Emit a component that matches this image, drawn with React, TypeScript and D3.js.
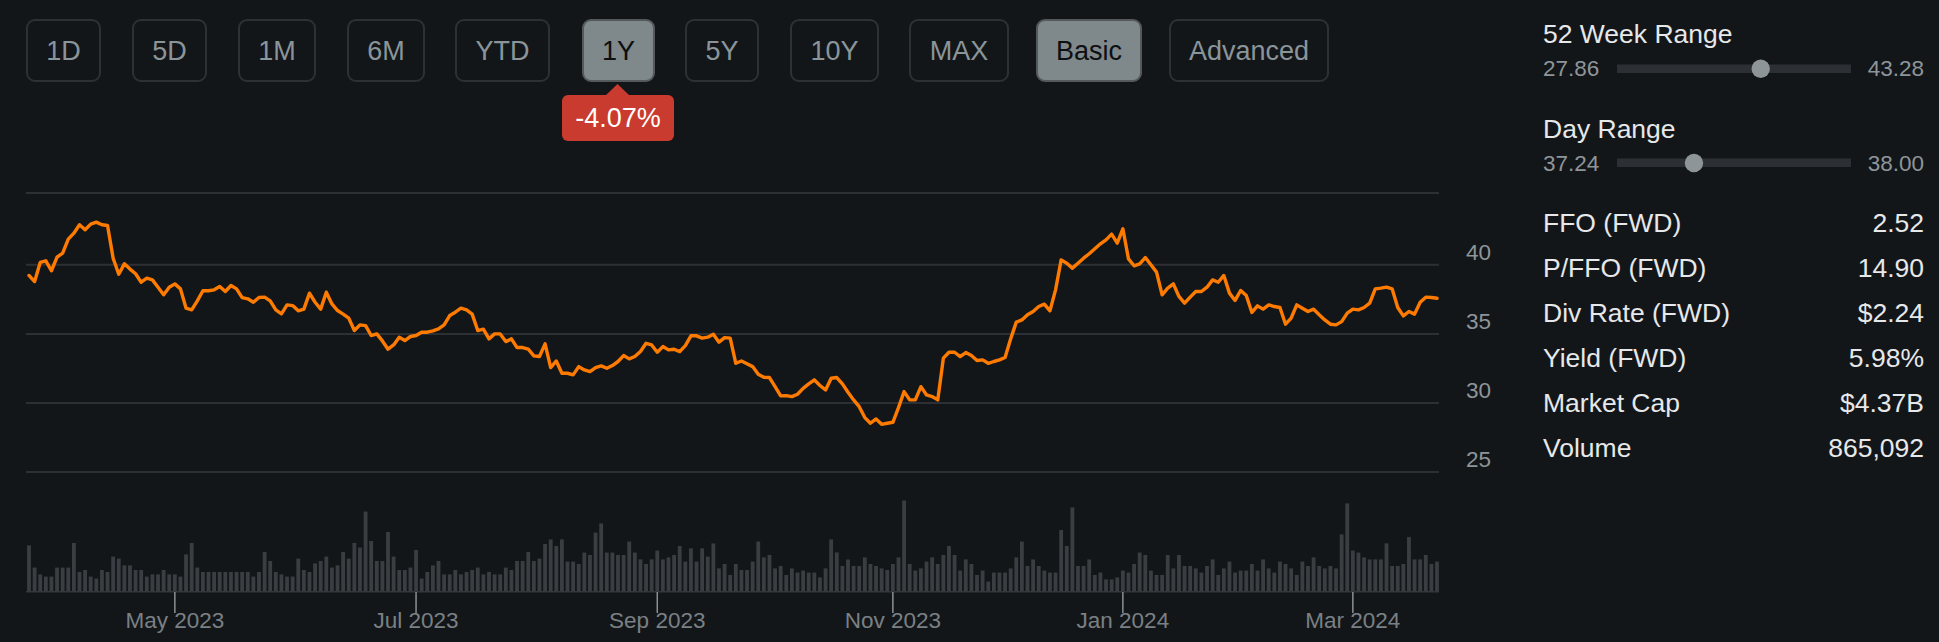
import React from "react";
import * as d3 from "d3";

const W = 1939;
const H = 642;

// ---- data ----
const startDate = "2023-03-23";
const holidays = [
  "2023-04-07", "2023-05-29", "2023-06-19", "2023-07-04", "2023-09-04",
  "2023-11-23", "2023-12-25", "2024-01-01", "2024-01-15", "2024-02-19",
];

const prices: number[] = [
  39.23, 38.79, 40.17, 40.29, 39.57, 40.56, 40.85, 41.86, 42.29, 42.90,
  42.54, 42.95, 43.09, 42.90, 42.85, 40.48, 39.32, 40.07, 39.69, 39.35,
  38.74, 39.03, 38.91, 38.38, 37.83, 38.38, 38.62, 38.26, 36.86, 36.74,
  37.39, 38.12, 38.12, 38.19, 38.43, 38.07, 38.50, 38.26, 37.63, 37.54,
  37.29, 37.63, 37.66, 37.39, 36.74, 36.45, 37.10, 37.05, 36.67, 36.79,
  37.95, 37.29, 36.79, 38.02, 37.17, 36.69, 36.43, 36.14, 35.24, 35.65,
  35.60, 34.88, 35.00, 34.49, 33.89, 34.20, 34.76, 34.52, 34.81, 34.88,
  35.12, 35.12, 35.22, 35.36, 35.65, 36.33, 36.57, 36.86, 36.74, 36.43,
  35.24, 35.34, 34.64, 35.00, 35.00,
  34.44, 34.64, 34.01, 34.01, 33.89, 33.41, 33.36, 34.28, 32.56, 33.04,
  32.15, 32.15, 32.03, 32.63, 32.39, 32.27, 32.56, 32.68, 32.51, 32.71,
  33.00, 33.43, 33.19, 33.36, 33.72, 34.32, 34.20, 33.67, 34.08, 33.84,
  33.89, 33.72, 34.15, 34.86, 34.86, 34.69, 34.76, 34.98, 34.40, 34.73,
  34.69, 32.87, 33.04, 32.83, 32.63, 32.08, 31.86, 31.84, 31.18, 30.51,
  30.53, 30.46, 30.63, 31.06, 31.38, 31.67, 31.26, 30.94, 31.79, 31.84,
  31.38, 30.77, 30.22, 29.73, 28.94, 28.53, 28.84, 28.45, 28.53, 28.60,
  29.66, 30.82, 30.22, 30.22, 31.18, 30.58, 30.46, 30.22, 33.24, 33.67,
  33.67, 33.36, 33.65, 33.43, 33.07,
  33.12, 32.87, 33.00, 33.12, 33.29, 34.64, 35.85, 36.01, 36.38, 36.62,
  36.98, 37.15, 36.67, 38.19, 40.36, 40.12, 39.76, 40.12, 40.48, 40.80,
  41.16, 41.52, 41.81, 42.22, 41.57, 42.61, 40.43, 39.93, 40.07, 40.53,
  40.00, 39.47, 37.83, 38.31, 38.62, 37.71, 37.22, 37.66, 38.07, 38.07,
  38.38, 38.91, 38.74, 39.23, 37.95, 37.42, 38.14, 37.78, 36.55, 37.03,
  36.79, 37.10, 36.98, 36.91, 35.70, 36.14, 37.10, 36.86, 36.62, 36.79,
  36.38, 36.01, 35.70, 35.65, 35.89, 36.50, 36.79, 36.74, 36.91,
  37.22, 38.26, 38.31, 38.38, 38.26, 36.91, 36.30, 36.62, 36.43, 37.29,
  37.66, 37.63, 37.58,
];

// volume, millions of shares
const volumes: number[] = [
  2.28, 1.17, 0.83, 0.72, 0.72, 1.17, 1.17, 1.17, 2.40, 0.95,
  1.05, 0.72, 0.62, 1.05, 0.95, 1.72, 1.62, 1.28, 1.28, 1.05,
  1.05, 0.72, 0.83, 0.83, 1.05, 0.83, 0.83, 0.72, 1.83, 2.40,
  1.17, 0.95, 0.95, 0.95, 0.95, 0.95, 0.95, 0.95, 0.95, 0.95,
  0.72, 0.95, 1.95, 1.50, 0.95, 0.83, 0.72, 0.72, 1.62, 1.05,
  0.95, 1.38, 1.50, 1.72, 1.17, 1.28, 1.95, 1.62, 2.40, 2.17,
  3.97, 2.50, 1.50, 1.50, 2.95, 1.72, 1.05, 1.05, 1.17, 2.05,
  0.62, 0.95, 1.28, 1.50, 0.83, 0.83, 1.05, 0.83, 0.95, 1.05,
  1.17, 0.83, 0.95, 0.83, 0.83, 1.17, 1.05, 1.50, 1.50, 1.95,
  1.50, 1.62,
  2.35, 2.58, 2.25, 2.58, 1.47, 1.47, 1.35, 1.92, 1.80, 2.92,
  3.38, 1.92, 1.92, 1.80, 1.80, 2.47, 1.92, 1.58, 1.35, 1.58,
  2.02, 1.58, 1.68, 1.80, 2.25, 1.47, 2.13, 1.47, 2.13,
  1.72, 2.38, 1.13, 1.35, 0.80, 1.35, 1.05, 1.05, 1.47, 2.47,
  1.68, 1.80, 1.13, 1.25, 0.80, 1.13, 0.92, 1.02, 0.92, 0.92,
  0.68, 1.13, 2.58, 1.93, 1.25, 1.58, 1.25, 1.25, 1.68, 1.35,
  1.25, 1.13, 1.05, 1.35, 1.68, 4.52, 1.35, 1.02, 1.13, 1.47,
  1.68, 1.35, 1.80, 2.25, 1.80, 1.02, 1.58, 1.35, 0.80, 1.02,
  0.47, 0.92, 0.92, 0.92, 1.13, 1.68, 2.47, 1.25, 1.58, 1.25,
  1.02, 0.92, 0.92, 3.05, 2.25, 4.18, 1.25, 1.25, 1.58, 0.80,
  0.92, 0.58, 0.58, 0.68, 1.02, 0.92, 1.35, 1.92, 1.80, 1.02,
  0.80, 0.80, 1.80, 1.13, 1.80, 1.25, 1.25, 1.13, 0.92, 1.25,
  1.58, 0.80, 1.13, 1.47, 0.92, 1.02, 1.02, 1.35, 1.02, 1.58,
  1.13, 0.92, 1.47, 1.35, 1.13, 0.80, 1.47, 1.25, 1.68, 1.25,
  1.13, 1.25, 1.13, 2.83, 4.38, 2.02, 1.92, 1.68, 1.58, 1.58,
  1.58, 2.38, 1.25, 1.25, 1.35, 2.70, 1.58, 1.58, 1.80, 1.35,
  1.47,
];

const yTickValues = [25, 30, 35, 40];
const xTickMonths = [4, 6, 8, 10, 0, 2];

const periodButtons = ["1D", "5D", "1M", "6M", "YTD", "1Y", "5Y", "10Y", "MAX", "Basic", "Advanced"];
const selectedButtons = ["1Y", "Basic"];
const changeLabel = "-4.07%";

const rangeTitles = ["52 Week Range", "Day Range"];
const rangeLows = [27.86, 37.24];
const rangeHighs = [43.28, 38.0];
const rangeCurrent = [37.33, 37.49];

const statLabels = ["FFO (FWD)", "P/FFO (FWD)", "Div Rate (FWD)", "Yield (FWD)", "Market Cap", "Volume"];
const statValues = ["2.52", "14.90", "$2.24", "5.98%", "$4.37B", "865,092"];

// ---- layout ----
const BG = "#131619";
const FONT = "'Liberation Sans', Arial, Helvetica, sans-serif";
const buttonBoxes: [number, number][] = [
  [27, 100], [133, 206], [239, 315], [348, 424], [456, 549], [583, 654],
  [686, 758], [791, 878], [910, 1008], [1037, 1141], [1170, 1328],
];

function tradingDays(start: string, n: number): Date[] {
  const hol = new Set(holidays);
  const fmt = d3.timeFormat("%Y-%m-%d");
  const out: Date[] = [];
  const d = new Date(start + "T12:00:00");
  while (out.length < n) {
    const wd = d.getDay();
    if (wd !== 0 && wd !== 6 && !hol.has(fmt(d))) out.push(new Date(d));
    d.setDate(d.getDate() + 1);
  }
  return out;
}

export default function App() {
  const n = prices.length;
  const dates = tradingDays(startDate, n);

  const x = d3.scaleLinear().domain([0, n - 1]).range([29, 1437]);
  const y = d3.scaleLinear().domain([25, 45.2]).range([472, 193]);
  const yv = d3.scaleLinear().domain([0, 4.5]).range([591, 501]);

  const line = d3
    .line<number>()
    .x((_, i) => x(i))
    .y((d) => y(d))
    .curve(d3.curveLinear);

  const fmtTick = d3.timeFormat("%b %Y");
  const xTicks: { i: number; label: string }[] = [];
  dates.forEach((d, i) => {
    if (i > 0 && d.getMonth() !== dates[i - 1].getMonth() && xTickMonths.includes(d.getMonth())) {
      xTicks.push({ i, label: fmtTick(d) });
    }
  });

  const gridX0 = 26;
  const gridX1 = 1439;
  const barW = 3.8;

  const slider = d3.scaleLinear().range([1617, 1851]);

  return (
    <div style={{ position: "absolute", left: 0, top: 0, width: W, height: H, background: BG }}>
      <svg width={W} height={H} style={{ display: "block" }} fontFamily={FONT}>
        <rect x={0} y={0} width={W} height={H} fill={BG} />

        {/* period buttons */}
        {periodButtons.map((b, k) => {
          const [x0, x1] = buttonBoxes[k];
          const sel = selectedButtons.includes(b);
          return (
            <g key={b}>
              <rect
                x={x0}
                y={20}
                width={x1 - x0}
                height={61}
                rx={8}
                fill={sel ? "#7f888b" : BG}
                stroke={sel ? "#55595c" : "#2d3134"}
                strokeWidth={2}
              />
              <text
                x={(x0 + x1) / 2}
                y={59.5}
                textAnchor="middle"
                fontSize={27}
                fill={sel ? "#0d0f11" : "#8a959a"}
              >
                {b}
              </text>
            </g>
          );
        })}

        {/* change badge */}
        <path d="M605,96 L617.5,84 L630,96 Z" fill="#c93b2e" />
        <rect x={562} y={95} width={112} height={46} rx={6} fill="#c93b2e" />
        <text x={618} y={127} textAnchor="middle" fontSize={27} fill="#ffffff">
          {changeLabel}
        </text>

        {/* grid */}
        <line x1={gridX0} x2={gridX1} y1={y.range()[1]} y2={y.range()[1]} stroke="#2c3034" strokeWidth={2} />
        {yTickValues.map((v) => (
          <g key={v}>
            <line x1={gridX0} x2={gridX1} y1={y(v)} y2={y(v)} stroke="#2c3034" strokeWidth={2} />
            <text x={1466} y={y(v) - 5} fontSize={22.5} fill="#8e9599">
              {v}
            </text>
          </g>
        ))}

        {/* volume bars */}
        {volumes.map((v, i) => (
          <rect key={i} x={x(i) - barW / 2} y={yv(v)} width={barW} height={yv(0) - yv(v)} fill="#3a3e42" />
        ))}
        <line x1={gridX0} x2={gridX1} y1={yv(0) + 0.75} y2={yv(0) + 0.75} stroke="#34383b" strokeWidth={1.5} />

        {/* x axis ticks */}
        {xTicks.map((t) => (
          <g key={t.label}>
            <line x1={x(t.i)} x2={x(t.i)} y1={592} y2={613} stroke="#8a9195" strokeWidth={1.5} />
            <text x={x(t.i)} y={628} textAnchor="middle" fontSize={22.5} fill="#7a8084">
              {t.label}
            </text>
          </g>
        ))}

        {/* price line */}
        <path
          d={line(prices) || ""}
          fill="none"
          stroke="#ff7b00"
          strokeWidth={3.4}
          strokeLinejoin="round"
          strokeLinecap="round"
        />

        {/* ranges */}
        {rangeTitles.map((t, k) => {
          const base = k === 0 ? 0 : 94.5;
          const s = slider.copy().domain([rangeLows[k], rangeHighs[k]]);
          return (
            <g key={t}>
              <text x={1543} y={43 + base} fontSize={26.5} fill="#e6e8ea">
                {t}
              </text>
              <text x={1543} y={76 + base} fontSize={22.5} fill="#8e9599">
                {rangeLows[k].toFixed(2)}
              </text>
              <rect x={1617} y={64.5 + base - (k === 0 ? 0 : 0.5)} width={234} height={8.5} fill="#2c3034" />
              <circle cx={s(rangeCurrent[k])} cy={68.8 + base - (k === 0 ? 0 : 0.3)} r={9.2} fill="#8e9599" />
              <text x={1924} y={76 + base} textAnchor="end" fontSize={22.5} fill="#8e9599">
                {rangeHighs[k].toFixed(2)}
              </text>
            </g>
          );
        })}

        {/* stats */}
        {statLabels.map((l, k) => (
          <g key={l}>
            <text x={1543} y={232 + k * 45} fontSize={26.5} fill="#e6e8ea">
              {l}
            </text>
            <text x={1924} y={232 + k * 45} textAnchor="end" fontSize={26.5} fill="#e6e8ea">
              {statValues[k]}
            </text>
          </g>
        ))}
      </svg>
    </div>
  );
}
